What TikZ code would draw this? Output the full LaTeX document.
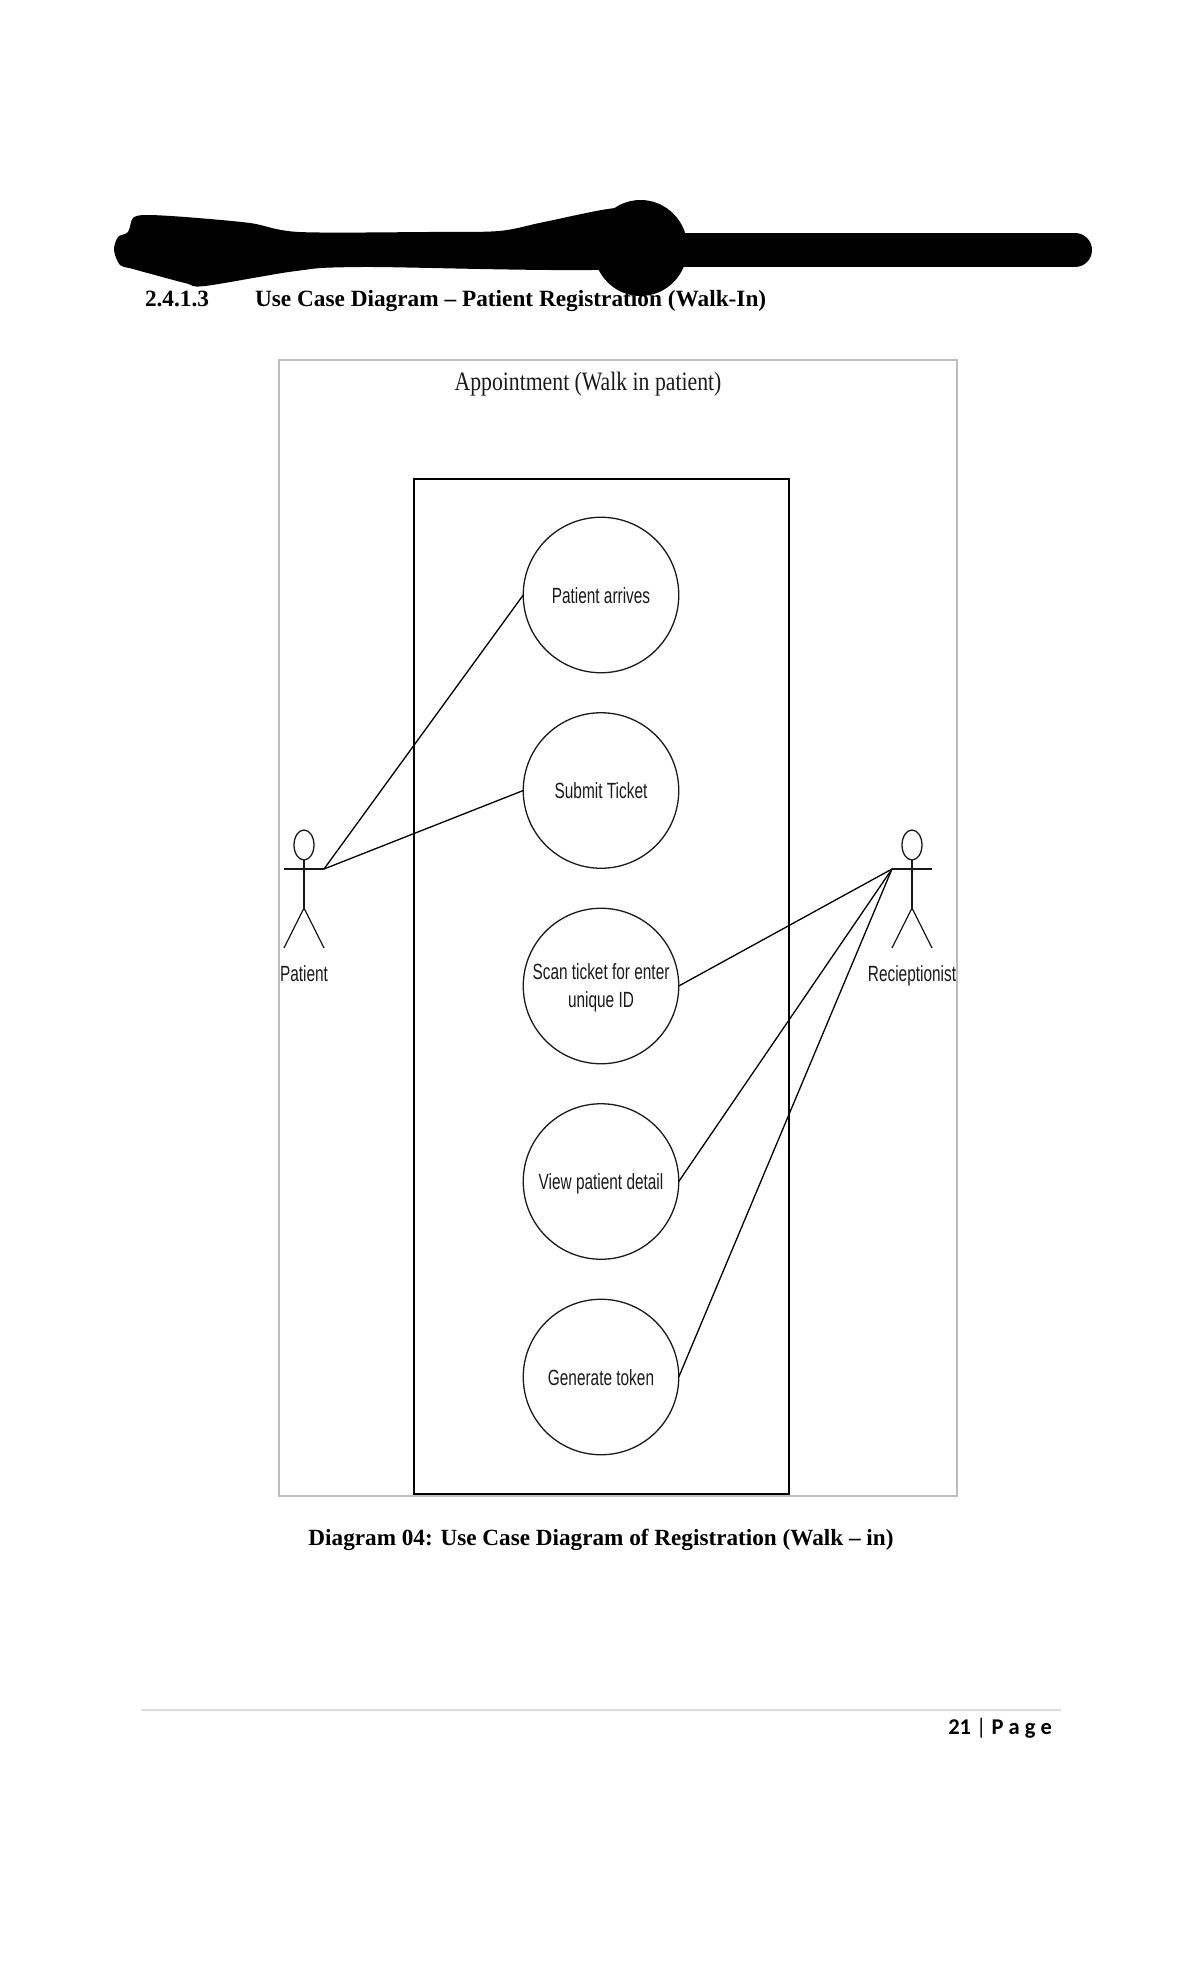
\documentclass[tikz,border=0pt]{standalone}
\usepackage{fontspec}
\setmainfont{Liberation Serif}
\newfontfamily\umlfont[FakeStretch=0.7]{Liberation Sans}
\newfontfamily\headfont[FakeStretch=0.82]{Liberation Serif}
\newfontfamily\pagefont{Carlito}
\usetikzlibrary{positioning,shapes.geometric}
\definecolor{framegray}{HTML}{BDBDBD}
\definecolor{rulegray}{HTML}{DCDCDC}
\definecolor{umlink}{HTML}{1A1A1A}
\tikzset{
    every node/.style = {
        inner sep = 0pt,
        outer sep = 0pt
    },
    heading/.style = {
        font = \bfseries\fontsize{23.3}{27}\selectfont,
        anchor = base west
    },
    usecase/.style = {
        circle,
        draw = umlink,
        line width = 1.3pt,
        minimum size = 155.5pt,
        align = center,
        text = umlink,
        text height = 16pt,
        text depth = 0pt,
        font = \umlfont\fontsize{22}{28}\selectfont
    },
    actorlabel/.style = {
        anchor = base,
        text = umlink,
        font = \umlfont\fontsize{22}{26}\selectfont
    },
    assoc/.style = {
        draw = black,
        line width = 1.3pt
    },
    pics/actor/.style = {
        code = {
            \node (-head) at (0,24pt) [ellipse, draw=umlink, line width=1.3pt,
                minimum width=20pt, minimum height=30pt]{};
            \coordinate (-arml) at (-20pt,0);
            \coordinate (-armr) at (20pt,0);
            \coordinate (-hip) at (0,-39pt);
            \coordinate (-footl) at (-20pt,-79pt);
            \coordinate (-footr) at (20pt,-79pt);
            \draw [line width=1.3pt, umlink] (-head.south) -- (-hip);
            \draw [line width=1.3pt, umlink] (-arml) -- (-armr);
            \draw [line width=1.3pt, umlink] (-footl) -- (-hip) -- (-footr);
        }
    }
}

\begin{document}
\begin{tikzpicture}[x=1pt, y=1pt]
    \useasboundingbox (0,0) rectangle (1200pt,-1976pt);
    % page text
    \node (section) at (145pt,-306pt) [heading]{2.4.1.3};
    \node (sectitle) at (255pt,-306pt) [heading]{Use Case Diagram – Patient Registration (Walk-In)};
    % scribble over the top of the page
    \fill [black] plot [smooth cycle, tension=0.5] coordinates {
        (114,-250) (118,-237) (128,-232) (133,-218) (146,-215) (185,-217) (250,-223) (299,-232)
        (427,-232) (499,-231) (544,-222) (616,-208) (650,-215) (650,-267)
        (361,-267) (296,-271) (205,-286) (185,-283) (133,-269) (120,-265)
    };
    \fill [black] (640.5,-248) ellipse [x radius=47, y radius=48];
    \draw [black, line width=34pt, line cap=round] (640,-250) -- (1075,-250);
    % frames
    \node (frame) at (618pt,-928pt) [draw=framegray, line width=2pt,
        minimum width=678pt, minimum height=1136pt]{};
    \node (system) at (601.5pt,-986.5pt) [draw=black, line width=1.3pt,
        minimum width=375pt, minimum height=1015pt]{};
    \node (title) at (588pt,-384pt) [text=umlink,
        font=\headfont\fontsize{26.5}{30}\selectfont]{Appointment (Walk in patient)};
    % use cases
    \node (arrives) at (601pt,-595pt) [usecase]{Patient arrives};
    \node (submit) [usecase, below=40pt of arrives]{Submit Ticket};
    \node (scan) [usecase, below=40pt of submit, text height=, text depth=]{\rule{0pt}{20pt}Scan ticket for enter\\unique ID};
    \node (view) [usecase, below=40pt of scan]{View patient detail};
    \node (token) [usecase, below=40pt of view]{Generate token};
    % actors
    \pic (patient) at (304pt,-869pt) {actor};
    \pic (recep) at (912pt,-869pt) {actor};
    \node (patientlabel) at (304pt,-981pt) [actorlabel]{Patient};
    \node (receplabel) at (912pt,-981pt) [actorlabel]{Recieptionist};
    % associations
    \draw [assoc] (patient-armr) -- (arrives.west);
    \draw [assoc] (patient-armr) -- (submit.west);
    \draw [assoc] (recep-arml) -- (scan.east);
    \draw [assoc] (recep-arml) -- (view.east);
    \draw [assoc] (recep-arml) -- (token.east);
    % caption and footer
    \node (caption) at (601pt,-1545pt) [anchor=base,
        font=\bfseries\fontsize{23.2}{27}\selectfont]
        {Diagram 04: Use Case Diagram of Registration (Walk – in)};
    \coordinate (ruleleft) at (141pt,-1710pt);
    \coordinate (ruleright) at (1061pt,-1710pt);
    \draw [rulegray, line width=2pt] (ruleleft) -- (ruleright);
    \node (pageno) at (1052pt,-1728pt) [anchor=east,
        font=\pagefont\bfseries\fontsize{22.5}{26}\selectfont]{21 {\mdseries|} P a g e};
\end{tikzpicture}
\end{document}
